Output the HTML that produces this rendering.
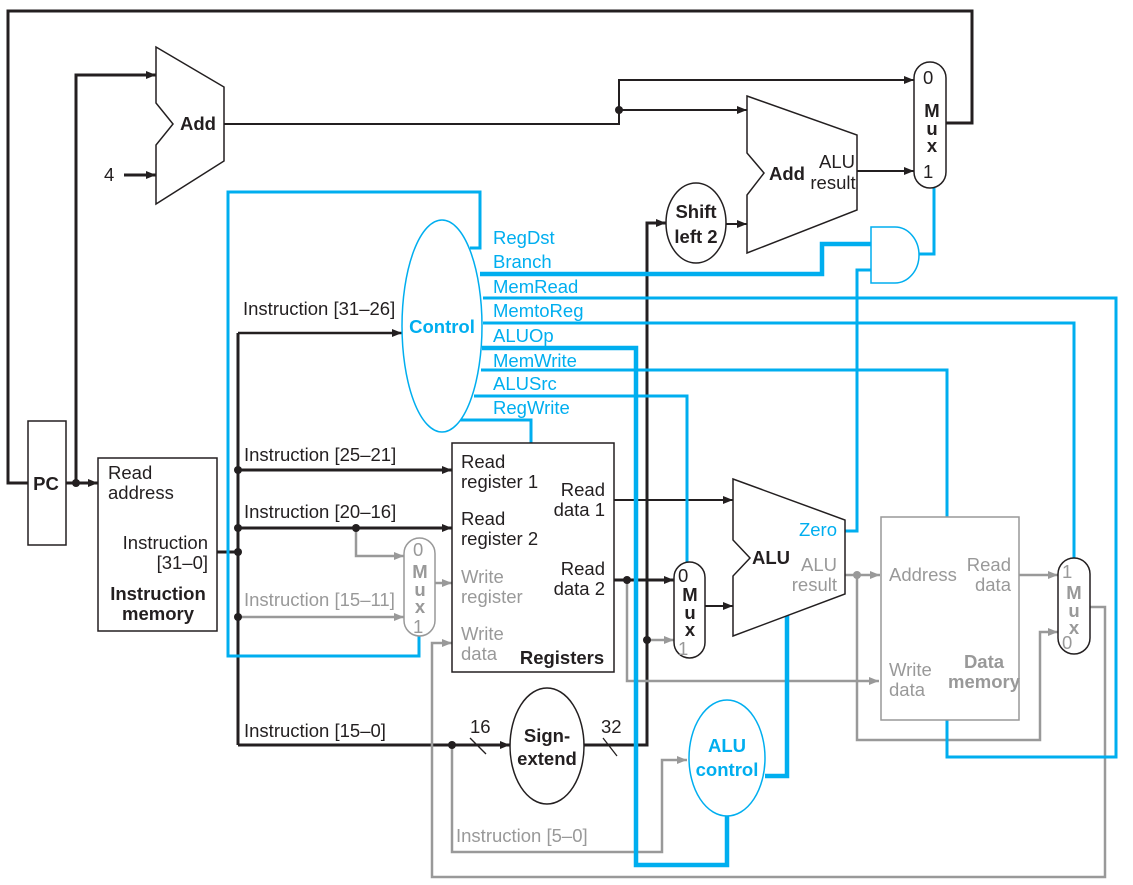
<!DOCTYPE html>
<html><head><meta charset="utf-8"><style>
html,body{margin:0;padding:0;background:#fff;}
svg{display:block;}
text{font-family:"Liberation Sans",Arial,sans-serif;font-size:18.5px;fill:#231f20;}
.b{font-weight:bold;}
.bl{fill:#00aeef;}
.g{fill:#999;}
.s{font-size:17px;}
</style></head><body>
<svg width="1133" height="885" viewBox="0 0 1133 885" xmlns="http://www.w3.org/2000/svg">
<defs>
<marker id="ak" markerWidth="10" markerHeight="8" refX="10" refY="4" orient="auto" markerUnits="userSpaceOnUse"><path d="M0,0 L10,4 L0,8 z" fill="#231f20"/></marker>
<marker id="ag" markerWidth="10" markerHeight="8" refX="10" refY="4" orient="auto" markerUnits="userSpaceOnUse"><path d="M0,0 L10,4 L0,8 z" fill="#999"/></marker>
</defs>
<g fill="none" stroke-linejoin="miter">
<g stroke="#231f20" stroke-width="3">
<polyline points="946,123 972,123 972,11 8,11 8,483 28,483"/>
<polyline points="66,483 98,483" marker-end="url(#ak)"/>
<polyline points="76,483 76,75 156,75" marker-end="url(#ak)"/>
<line x1="124" y1="175" x2="156" y2="175" marker-end="url(#ak)"/>
<polyline points="217,552 238,552"/>
<line x1="238" y1="333" x2="238" y2="745"/>
<polyline points="238,333 402,333" stroke-width="2.5" marker-end="url(#ak)"/>
<line x1="238" y1="470" x2="452" y2="470" marker-end="url(#ak)"/>
<line x1="238" y1="528" x2="452" y2="528" marker-end="url(#ak)"/>
<line x1="238" y1="745" x2="510" y2="745" marker-end="url(#ak)"/>
<polyline points="584,745 647,745 647,223 666,223" marker-end="url(#ak)"/>
<line x1="614" y1="580" x2="674" y2="580" marker-end="url(#ak)"/>
</g>
<g stroke="#231f20" stroke-width="2">
<polyline points="224,124 619,124 619,80 914,80" marker-end="url(#ak)"/>
<line x1="619" y1="110" x2="747" y2="110" marker-end="url(#ak)"/>
<line x1="857" y1="171" x2="914" y2="171" marker-end="url(#ak)"/>
<line x1="726" y1="224" x2="747" y2="224" marker-end="url(#ak)"/>
<line x1="614" y1="500" x2="733" y2="500" marker-end="url(#ak)"/>
<line x1="705" y1="606" x2="733" y2="606" marker-end="url(#ak)"/>
<line x1="470" y1="738" x2="486" y2="754" stroke-width="1.3"/>
<line x1="603" y1="738" x2="617" y2="756" stroke-width="1.3"/>
</g>
<g stroke="#999" stroke-width="2.5">
<polyline points="356,528 356,556 404,556" marker-end="url(#ag)"/>
<line x1="238" y1="617" x2="404" y2="617" marker-end="url(#ag)"/>
<line x1="435" y1="583" x2="452" y2="583" marker-end="url(#ag)"/>
<polyline points="452,745 452,852 662,852 662,760 687,760" marker-end="url(#ag)"/>
<polyline points="1090,607 1105,607 1105,877 432,877 432,643 452,643" marker-end="url(#ag)"/>
<polyline points="627,580 627,681 879,681" marker-end="url(#ag)"/>
<line x1="647" y1="640" x2="674" y2="640" marker-end="url(#ag)"/>
<line x1="845" y1="575" x2="880" y2="575" marker-end="url(#ag)"/>
<polyline points="857,575 857,740 1040,740 1040,632 1058,632" marker-end="url(#ag)"/>
<line x1="1019" y1="575" x2="1058" y2="575" marker-end="url(#ag)"/>
</g>
<g stroke="#00aeef" stroke-width="3">
<polyline points="470,248 480,248 480,192 228,192 228,656 419,656 419,636"/>
<polyline points="483,298 1116,298 1116,757 947,757 947,720"/>
<polyline points="483,323 1074,323 1074,558"/>
<polyline points="481,370 947,370 947,517"/>
<polyline points="474,396 687,396 687,562"/>
<polyline points="460,420 531,420 531,443"/>
<polyline points="845,531 857,531 857,270 871,270"/>
<polyline points="918,254 934,254 934,188"/>
</g>
<g stroke="#00aeef" stroke-width="4.5">
<polyline points="480,274 822,274 822,244 871,244"/>
<polyline points="482,348 636,348 636,865 727,865 727,815"/>
<polyline points="765,776 787,776 787,615"/>
</g>
<g stroke="#231f20" stroke-width="1.5" fill="#fff">
<rect x="28" y="421" width="38" height="124"/>
<rect x="98" y="458" width="119" height="173"/>
<rect x="452" y="443" width="162" height="229"/>
<polygon points="156,47 224,87 224,161 156,204 156,145 173,124 156,103"/>
<polygon points="747,96 857,135 857,210 747,253 747,195 764,173 747,153"/>
<polygon points="733,479 845,520 845,594 733,636 733,576 750,558 733,540"/>
<ellipse cx="696" cy="223" rx="30" ry="40"/>
<ellipse cx="547" cy="746" rx="37" ry="58"/>
<rect x="914" y="62" width="32" height="126" rx="16"/>
<rect x="674" y="562" width="31" height="96" rx="15.5"/>
<rect x="1058" y="558" width="32" height="96" rx="16"/>
</g>
<g stroke="#999" stroke-width="1.5" fill="#fff">
<rect x="404" y="538" width="31" height="98" rx="15.5"/>
<rect x="881" y="517" width="138" height="203"/>
</g>
<g stroke="#00aeef" stroke-width="1.5" fill="#fff">
<ellipse cx="442" cy="326" rx="40" ry="106"/>
<ellipse cx="727" cy="758" rx="38" ry="58"/>
<path d="M871,227 L895,227 A24,28 0 0 1 895,283 L871,283 Z"/>
</g>
</g>
<g fill="#231f20">
<circle cx="76" cy="483" r="4"/><circle cx="619" cy="110" r="4"/>
<circle cx="238" cy="470" r="4"/><circle cx="238" cy="528" r="4"/><circle cx="238" cy="552" r="4"/><circle cx="238" cy="617" r="4"/>
<circle cx="356" cy="528" r="4"/><circle cx="452" cy="745" r="4"/>
<circle cx="627" cy="580" r="4"/><circle cx="647" cy="640" r="4"/>
</g>
<circle cx="857" cy="575" r="4" fill="#999"/>
<text x="46" y="490" class="b" text-anchor="middle">PC</text>
<text x="198" y="130" class="b" text-anchor="middle">Add</text>
<text x="104" y="181">4</text>
<text x="787" y="180" class="b" text-anchor="middle">Add</text>
<text x="837" y="168" text-anchor="middle">ALU</text>
<text x="833" y="189" text-anchor="middle">result</text>
<text x="923" y="84">0</text>
<text x="932" y="117" class="b" text-anchor="middle">M</text>
<text x="932" y="135" class="b" text-anchor="middle">u</text>
<text x="932" y="152" class="b" text-anchor="middle">x</text>
<text x="923" y="178">1</text>
<text x="696" y="218" class="b" text-anchor="middle">Shift</text>
<text x="696" y="243" class="b" text-anchor="middle">left 2</text>
<text x="442" y="333" class="b bl" text-anchor="middle">Control</text>
<text x="493" y="244" class="bl">RegDst</text>
<text x="493" y="268" class="bl">Branch</text>
<text x="493" y="293" class="bl">MemRead</text>
<text x="493" y="317" class="bl">MemtoReg</text>
<text x="493" y="342" class="bl">ALUOp</text>
<text x="493" y="367" class="bl">MemWrite</text>
<text x="493" y="390" class="bl">ALUSrc</text>
<text x="493" y="414" class="bl">RegWrite</text>
<text x="243" y="315">Instruction [31–26]</text>
<text x="244" y="461">Instruction [25–21]</text>
<text x="244" y="518">Instruction [20–16]</text>
<text x="244" y="606" class="g">Instruction [15–11]</text>
<text x="244" y="737">Instruction [15–0]</text>
<text x="456" y="842" class="g">Instruction [5–0]</text>
<text x="108" y="479">Read</text>
<text x="108" y="499">address</text>
<text x="208" y="549" text-anchor="end">Instruction</text>
<text x="208" y="569" text-anchor="end">[31–0]</text>
<text x="158" y="600" class="b" text-anchor="middle">Instruction</text>
<text x="158" y="620" class="b" text-anchor="middle">memory</text>
<text x="461" y="468">Read</text>
<text x="461" y="488">register 1</text>
<text x="461" y="525">Read</text>
<text x="461" y="545">register 2</text>
<text x="461" y="583" class="g">Write</text>
<text x="461" y="603" class="g">register</text>
<text x="461" y="640" class="g">Write</text>
<text x="461" y="660" class="g">data</text>
<text x="605" y="496" text-anchor="end">Read</text>
<text x="605" y="516" text-anchor="end">data 1</text>
<text x="605" y="575" text-anchor="end">Read</text>
<text x="605" y="595" text-anchor="end">data 2</text>
<text x="562" y="664" class="b" text-anchor="middle">Registers</text>
<text x="413" y="556" class="g">0</text>
<text x="420" y="578" class="b g" text-anchor="middle">M</text>
<text x="420" y="596" class="b g" text-anchor="middle">u</text>
<text x="420" y="613" class="b g" text-anchor="middle">x</text>
<text x="413" y="633" class="g">1</text>
<text x="678" y="582">0</text>
<text x="690" y="601" class="b" text-anchor="middle">M</text>
<text x="690" y="619" class="b" text-anchor="middle">u</text>
<text x="690" y="636" class="b" text-anchor="middle">x</text>
<text x="678" y="655" class="g">1</text>
<text x="771" y="564" class="b" text-anchor="middle">ALU</text>
<text x="837" y="536" class="bl" text-anchor="end">Zero</text>
<text x="837" y="571" class="g" text-anchor="end">ALU</text>
<text x="837" y="591" class="g" text-anchor="end">result</text>
<text x="547" y="742" class="b" text-anchor="middle">Sign-</text>
<text x="547" y="765" class="b" text-anchor="middle">extend</text>
<text x="470" y="733">16</text>
<text x="601" y="733">32</text>
<text x="727" y="752" class="b bl" text-anchor="middle">ALU</text>
<text x="727" y="776" class="b bl" text-anchor="middle">control</text>
<text x="889" y="581" class="g">Address</text>
<text x="1011" y="571" class="g" text-anchor="end">Read</text>
<text x="1011" y="591" class="g" text-anchor="end">data</text>
<text x="889" y="676" class="g">Write</text>
<text x="889" y="696" class="g">data</text>
<text x="984" y="668" class="b g" text-anchor="middle">Data</text>
<text x="984" y="688" class="b g" text-anchor="middle">memory</text>
<text x="1062" y="578" class="g">1</text>
<text x="1074" y="599" class="b g" text-anchor="middle">M</text>
<text x="1074" y="617" class="b g" text-anchor="middle">u</text>
<text x="1074" y="634" class="b g" text-anchor="middle">x</text>
<text x="1062" y="649" class="g">0</text>
</svg>
</body></html>
